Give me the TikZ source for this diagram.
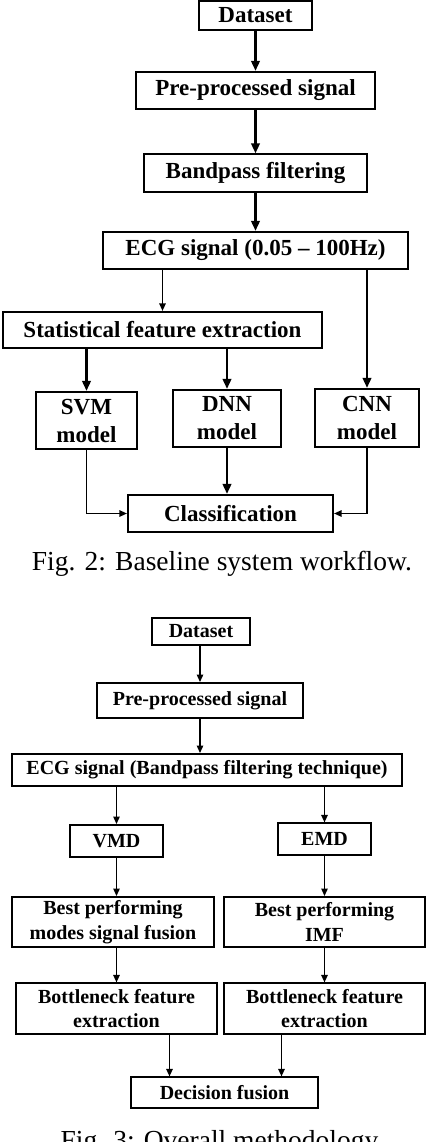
\documentclass[tikz,border=0pt]{standalone}
\usepackage{fontspec}
\setmainfont{Liberation Serif}
\usetikzlibrary{arrows.meta}
\tikzset{
  box/.style={draw=black, line width=2.2pt, inner sep=0pt, align=center,
    font=\fontsize{23}{28}\selectfont\bfseries},
  thinbox/.style={box, line width=1.3pt},
  smallbox/.style={draw=black, line width=2pt, inner sep=0pt, align=center,
    font=\fontsize{20}{24.5}\selectfont\bfseries},
  smallthin/.style={smallbox, line width=1.2pt},
  bigarrow/.style={line width=2.3pt, -{Triangle[length=10pt,width=8.5pt]}},
  lilarrow/.style={line width=1.3pt, -{Triangle[length=7.5pt,width=6.5pt]}},
  caption/.style={anchor=base, inner sep=0pt, font=\fontsize{27.5}{32}\selectfont}
}
\begin{document}
\begin{tikzpicture}[x=1pt, y=-1pt]
\clip (0,0) rectangle (426,1142);

\node[box, minimum width=113, minimum height=29] (data1) at (255.5,15.5) {Dataset};
\node[box, minimum width=239, minimum height=37] (pre1) at (255.5,90.5) {Pre-processed signal};
\node[thinbox, minimum width=223, minimum height=38] (band1) at (255.5,173) {Bandpass filtering};
\node[box, minimum width=305, minimum height=37] (ecg1) at (255.5,250.5) {ECG signal (0.05 -- 100Hz)};
\node[box, minimum width=319, minimum height=36] (stat) at (162.5,330) {Statistical feature extraction};
\node[box, minimum width=101, minimum height=57] (svm) at (86.5,420.5) {SVM\\model};
\node[box, minimum width=108, minimum height=57] (dnn) at (227,418.5) {DNN\\model};
\node[box, minimum width=104, minimum height=58] (cnn) at (367,418) {CNN\\model};
\node[box, minimum width=205, minimum height=37] (class) at (230.5,513.5) {Classification};
\node[caption] (cap2) at (222,570) {Fig. 2: Baseline system workflow.};

\draw[bigarrow] (data1) -- (pre1);
\draw[bigarrow] (pre1) -- (band1);
\draw[bigarrow] (band1) -- (ecg1);
\draw[lilarrow] (stat.north |- ecg1.south) -- (stat.north);
\draw[bigarrow] (cnn.north |- ecg1.south) -- (cnn.north);
\draw[bigarrow] (svm.north |- stat.south) -- (svm.north);
\draw[bigarrow] (dnn.north |- stat.south) -- (dnn.north);
\draw[lilarrow] (svm.south) |- (class.west);
\draw[bigarrow] (dnn.south) -- (dnn.south |- class.north);
\draw[lilarrow] (cnn.south) |- (class.east);

\node[smallbox, minimum width=98, minimum height=27] (data2) at (201,631.5) {Dataset};
\node[smallbox, minimum width=206, minimum height=35] (pre2) at (200,700.5) {Pre-processed signal};
\node[smallbox, minimum width=390, minimum height=32] (ecg2) at (207,770) {ECG signal (Bandpass filtering technique)};
\node[smallbox, minimum width=93, minimum height=32] (vmd) at (116.5,841) {VMD};
\node[smallthin, minimum width=93, minimum height=32] (emd) at (324.5,839) {EMD};
\node[smallbox, minimum width=202, minimum height=50] (bestA) at (113,922) {Best performing\\modes signal fusion};
\node[smallbox, minimum width=201, minimum height=50] (bestB) at (324.5,922) {Best performing\\IMF};
\node[smallthin, minimum width=201, minimum height=51] (bnA) at (116.5,1008.5) {Bottleneck feature\\extraction};
\node[smallthin, minimum width=201, minimum height=51] (bnB) at (324.5,1008.5) {Bottleneck feature\\extraction};
\node[smallthin, minimum width=187, minimum height=31] (dec) at (224.5,1092.5) {Decision fusion};
\node[caption] (cap3) at (222,1149) {Fig. 3: Overall methodology.};

\coordinate (decA) at ([xshift=-55pt]dec.north);
\coordinate (decB) at ([xshift=57pt]dec.north);

\draw[lilarrow] (pre2.north |- data2.south) -- (pre2.north);
\draw[lilarrow] (pre2) -- (pre2.south |- ecg2.north);
\draw[lilarrow] (vmd.north |- ecg2.south) -- (vmd.north);
\draw[lilarrow] (emd.north |- ecg2.south) -- (emd.north);
\draw[lilarrow] (vmd.south) -- (vmd.south |- bestA.north);
\draw[lilarrow] (emd.south) -- (emd.south |- bestB.north);
\draw[lilarrow] (vmd.south |- bestA.south) -- (vmd.south |- bnA.north);
\draw[lilarrow] (bestB) -- (bnB);
\draw[lilarrow] (decA |- bnA.south) -- (decA);
\draw[lilarrow] (decB |- bnB.south) -- (decB);
\end{tikzpicture}
\end{document}
